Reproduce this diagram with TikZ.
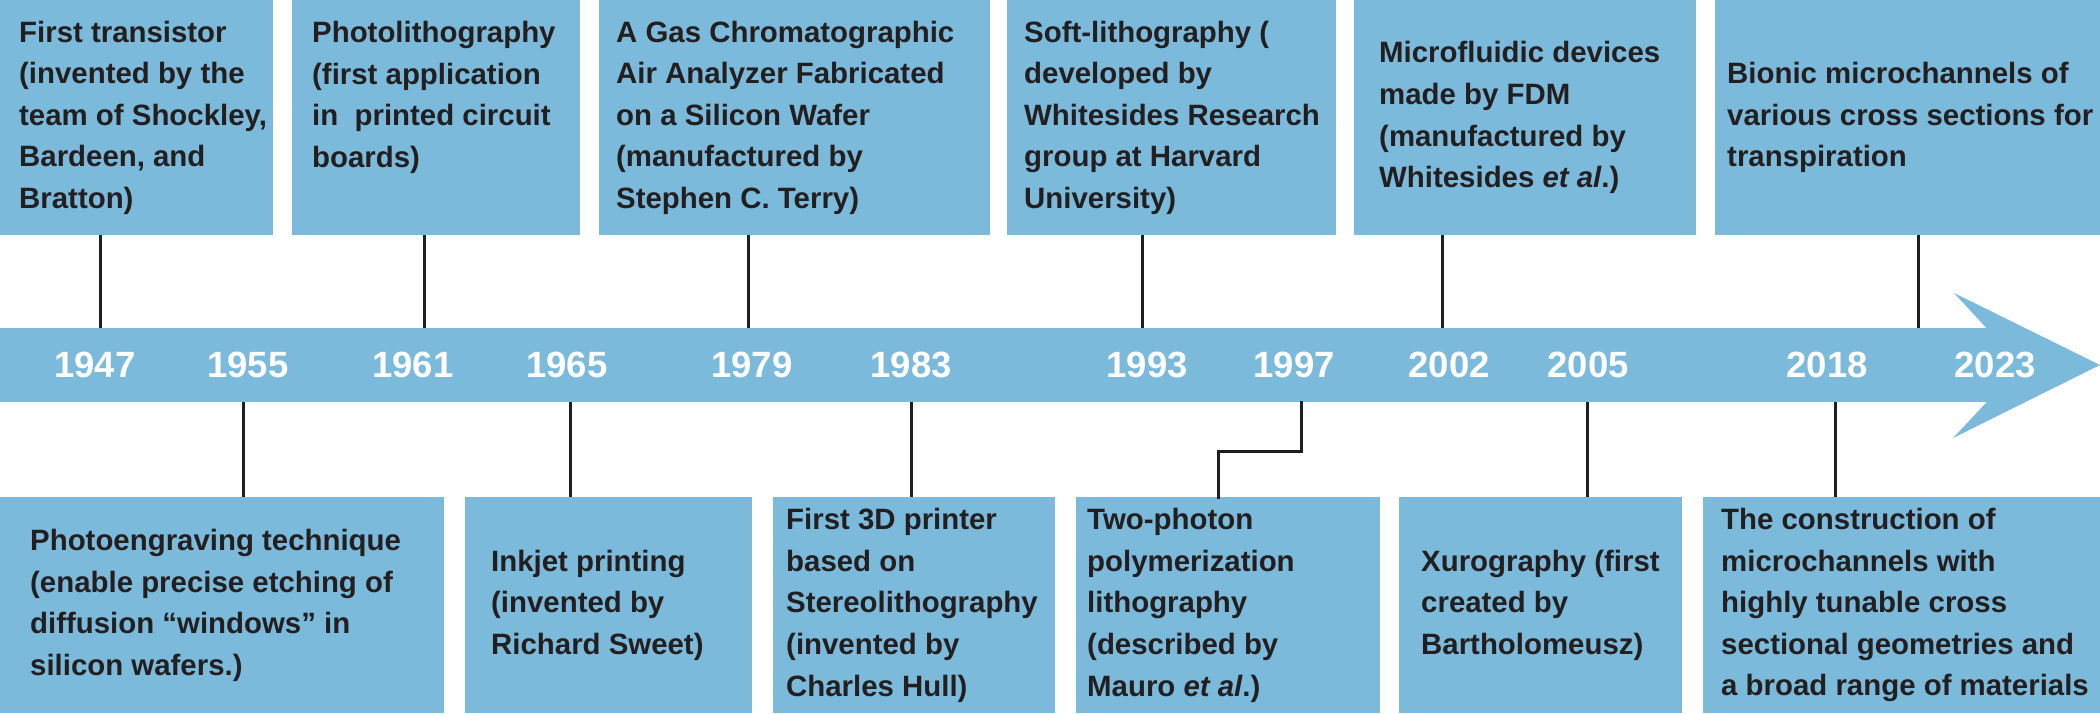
\documentclass[tikz,border=0pt]{standalone}
\usepackage{fontspec}
\setmainfont{Liberation Sans}
\definecolor{tlblue}{RGB}{123,186,219}
\definecolor{tltext}{RGB}{35,31,32}
\begin{document}
\begin{tikzpicture}[x=1pt,y=-1pt,
  box/.style={fill=tlblue, draw=none, inner sep=0pt, anchor=north west},
  upbox/.style={box, minimum height=235pt},
  lowbox/.style={box, minimum height=216pt},
  txt/.style={text=tltext, font=\bfseries\fontsize{29.4}{41.6}\selectfont, align=left, inner sep=0pt, anchor=west},
  yr/.style={text=white, font=\bfseries\fontsize{36.5}{40}\selectfont, inner sep=0pt, anchor=base},
  conn/.style={draw=black!88, line width=3pt}]
\useasboundingbox (0,0) rectangle (2100,713);

% timeline arrow
\node[box, minimum width=1987pt, minimum height=74pt] (bar) at (0,328) {};
\fill[tlblue] ([xshift=-1pt]bar.north east) -- (1954,293) -- (2100,365) -- (1953,438) -- ([xshift=-1pt]bar.south east) -- cycle;

% upper boxes
\node[upbox, minimum width=273pt] (b1) at (0,0) {};
\node[upbox, minimum width=288pt] (b2) at (292,0) {};
\node[upbox, minimum width=391pt] (b3) at (599,0) {};
\node[upbox, minimum width=329pt] (b4) at (1007,0) {};
\node[upbox, minimum width=342pt] (b5) at (1354,0) {};
\node[upbox, minimum width=385pt] (b6) at (1715,0) {};

% lower boxes
\node[lowbox, minimum width=444pt] (l1) at (0,497) {};
\node[lowbox, minimum width=287pt] (l2) at (465,497) {};
\node[lowbox, minimum width=282pt] (l3) at (773,497) {};
\node[lowbox, minimum width=304pt] (l4) at (1076,497) {};
\node[lowbox, minimum width=283pt] (l5) at (1399,497) {};
\node[lowbox, minimum width=397pt] (l6) at (1703,497) {};

% upper texts
\node[txt] (t1) at ([xshift=19pt]b1.west) {First transistor\\(invented by the\\team of Shockley,\\Bardeen, and\\Bratton)};
\node[txt, anchor=north west] (t2) at (312,21) {Photolithography\\(first application\\in\ \ printed circuit\\boards)};
\node[txt] (t3) at ([xshift=17pt]b3.west) {A Gas Chromatographic\\Air Analyzer Fabricated\\on a Silicon Wafer\\(manufactured by\\Stephen C. Terry)};
\node[txt] (t4) at ([xshift=17pt]b4.west) {Soft-lithography (\\developed by\\Whitesides Research\\group at Harvard\\University)};
\node[txt] (t5) at ([xshift=25pt]b5.west) {Microfluidic devices\\made by FDM\\(manufactured by\\Whitesides \textit{et al}.)};
\node[txt] (t6) at ([xshift=12pt]b6.west) {Bionic microchannels of\\various cross sections for\\transpiration};

% lower texts
\node[txt] (u1) at ([xshift=30pt]l1.west) {Photoengraving technique\\(enable precise etching of\\diffusion “windows” in\\silicon wafers.)};
\node[txt] (u2) at ([xshift=26pt]l2.west) {Inkjet printing\\(invented by\\Richard Sweet)};
\node[txt] (u3) at ([xshift=13pt]l3.west) {First 3D printer\\based on\\Stereolithography\\(invented by\\Charles Hull)};
\node[txt] (u4) at ([xshift=11pt]l4.west) {Two-photon\\polymerization\\lithography\\(described by\\Mauro \textit{et al}.)};
\node[txt] (u5) at ([xshift=22pt]l5.west) {Xurography (first\\created by\\Bartholomeusz)};
\node[txt] (u6) at ([xshift=18pt]l6.west) {The construction of\\microchannels with\\highly tunable cross\\sectional geometries and\\a broad range of materials};

% years
\node[yr] (y1947) at (95,377) {1947};
\node[yr] (y1955) at (248,377) {1955};
\node[yr] (y1961) at (413,377) {1961};
\node[yr] (y1965) at (567,377) {1965};
\node[yr] (y1979) at (752,377) {1979};
\node[yr] (y1983) at (911,377) {1983};
\node[yr] (y1993) at (1147,377) {1993};
\node[yr] (y1997) at (1294,377) {1997};
\node[yr] (y2002) at (1449,377) {2002};
\node[yr] (y2005) at (1588,377) {2005};
\node[yr] (y2018) at (1827,377) {2018};
\node[yr] (y2023) at (1995,377) {2023};

% connector x positions
\coordinate (c1947) at (100,0);
\coordinate (c1961) at (424,0);
\coordinate (c1979) at (748,0);
\coordinate (c1993) at (1142,0);
\coordinate (c2002) at (1442,0);
\coordinate (c2020) at (1918,0);
\coordinate (c1955) at (243,0);
\coordinate (c1965) at (570,0);
\coordinate (c1983) at (911,0);
\coordinate (c2005) at (1587,0);
\coordinate (c2018) at (1835,0);
\coordinate (e1) at (1301,451);
\coordinate (e2) at (1218,451);

% upper connectors
\draw[conn] (b1.south -| c1947) -- (bar.north -| c1947);
\draw[conn] (b2.south -| c1961) -- (bar.north -| c1961);
\draw[conn] (b3.south -| c1979) -- (bar.north -| c1979);
\draw[conn] (b4.south -| c1993) -- (bar.north -| c1993);
\draw[conn] (b5.south -| c2002) -- (bar.north -| c2002);
\draw[conn] (b6.south -| c2020) -- (bar.north -| c2020);

% lower connectors
\draw[conn] (bar.south -| c1955) -- (l1.north -| c1955);
\draw[conn] (bar.south -| c1965) -- (l2.north -| c1965);
\draw[conn] (bar.south -| c1983) -- (l3.north -| c1983);
\draw[conn, line cap=rect] (bar.south -| e1) -- (e1) -- (e2) -- (l4.north -| e2);
\draw[conn] (bar.south -| c2005) -- (l5.north -| c2005);
\draw[conn] (bar.south -| c2018) -- (l6.north -| c2018);
\end{tikzpicture}
\end{document}
